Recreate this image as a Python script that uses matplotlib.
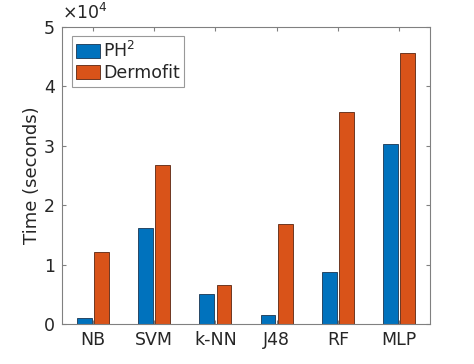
import matplotlib.pyplot as plt
import numpy as np

categories = ['NB', 'SVM', 'k-NN', 'J48', 'RF', 'MLP']
ph2 = [1000, 16100, 5000, 1500, 8800, 30300]
dermofit = [12100, 26700, 6500, 16800, 35600, 45600]

plt.rcParams['font.family'] = 'DejaVu Sans'
fig = plt.figure(figsize=(4.74, 3.64), dpi=100)
ax = fig.add_axes([0.131, 0.110, 0.776, 0.816])

x = np.arange(1, len(categories) + 1)
w = 0.24
ax.bar(x - 0.14, ph2, w, color='#0072BD', edgecolor='#1a3550', linewidth=0.6, label='PH$^2$')
ax.bar(x + 0.14, dermofit, w, color='#D95319', edgecolor='#5a2510', linewidth=0.6, label='Dermofit')

ax.set_xlim(0.5, 6.5)
ax.set_ylim(0, 50000)
ax.set_xticks(x)
ax.set_xticklabels(categories)
ax.set_yticks([0, 10000, 20000, 30000, 40000, 50000])
ax.set_yticklabels(['0', '1', '2', '3', '4', '5'])
ax.tick_params(direction='in', top=True, right=True, length=3, color='#808080',
               labelsize=12.5, labelcolor='#262626', pad=5)
for s in ax.spines.values():
    s.set_color('#808080')
    s.set_linewidth(0.8)
ax.set_ylabel('Time (seconds)', fontsize=13, color='#262626', labelpad=2)
ax.text(0.0, 1.012, r'$\times10^4$', transform=ax.transAxes, fontsize=12.5,
        color='#262626', ha='left', va='bottom')

leg = ax.legend(loc='upper left', fontsize=12.5, frameon=True, fancybox=False,
                edgecolor='#808080', handlelength=1.4, handleheight=0.85,
                handletextpad=0.15, borderaxespad=0.55, borderpad=0.25,
                labelspacing=0.2)
leg.get_frame().set_linewidth(0.8)
for t in leg.get_texts():
    t.set_color('#262626')

fig.savefig('out.png', dpi=100)
